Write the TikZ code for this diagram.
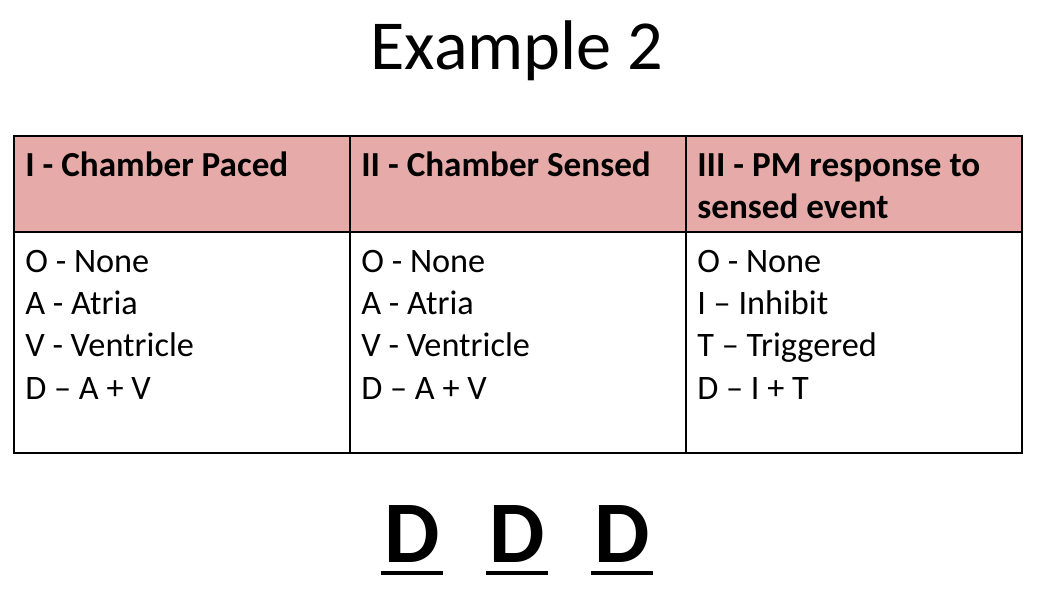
\documentclass[tikz,border=0pt]{standalone}
\usepackage{fontspec}
\setmainfont{Carlito}
\usetikzlibrary{positioning}
\definecolor{headpink}{RGB}{230,170,168}
\tikzset{
  headtxt/.style={anchor=base west, inner sep=0pt, font=\fontsize{20}{24}\selectfont\bfseries},
  bodytxt/.style={anchor=base west, inner sep=0pt, font=\fontsize{19.5}{24}\selectfont},
  codeltr/.style={anchor=base, inner sep=0pt, font=\fontsize{50}{60}\selectfont\bfseries}
}
\begin{document}
\begin{tikzpicture}[x=0.02cm,y=-0.02cm]
    \useasboundingbox (0,0) rectangle (1038,604);
    % title
    \node[anchor=base, inner sep=0pt, font=\fontsize{40}{48}\selectfont] (title) at (517,70) {Example 2};
    % table
    \fill[headpink] (14,136) rectangle (1022,232);
    \draw[line width=0.8pt] (14,136) rectangle (1022,453);
    \draw[line width=0.8pt] (14,232) -- (1022,232);
    \draw[line width=0.8pt] (350,136) -- (350,453);
    \draw[line width=0.8pt] (686,136) -- (686,453);
    \node[headtxt] (hI) at (25,177) {I - Chamber Paced};
    \node[headtxt] (hII) at (361,177) {II - Chamber Sensed};
    \node[headtxt] (hIIIa) at (697,177) {III - PM response to};
    \node[headtxt] (hIIIb) at (697,219) {sensed event};
    % body lines
    \foreach \x/\c in {25/I,361/II}{
        \node[bodytxt] (b\c a) at (\x,273) {O - None};
        \node[bodytxt] (b\c b) at (\x,315) {A - Atria};
        \node[bodytxt] (b\c c) at (\x,357) {V - Ventricle};
        \node[bodytxt] (b\c d) at (\x,399) {D -- A + V};
    }
    \node[bodytxt] (bIIIa) at (697,273) {O - None};
    \node[bodytxt] (bIIIb) at (697,315) {I -- Inhibit};
    \node[bodytxt] (bIIIc) at (697,357) {T -- Triggered};
    \node[bodytxt] (bIIId) at (697,399) {D -- I + T};
    % code letters
    \foreach \x/\n in {412/a,517/b,622/c}{
        \node[codeltr] (d\n) at (\x,562) {D};
        \draw[line width=2.5pt] (\x-31,573) -- (\x+31,573);
    }
\end{tikzpicture}
\end{document}
